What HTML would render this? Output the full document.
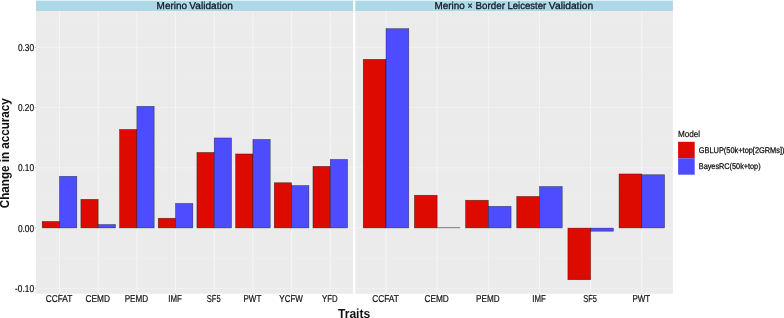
<!DOCTYPE html>
<html><head><meta charset="utf-8"><title>Change in accuracy</title>
<style>html,body{margin:0;padding:0;background:#fff;overflow:hidden}svg{display:block}</style></head>
<body>
<svg width="784" height="318" viewBox="0 0 784 318" font-family="Liberation Sans, Arial, Helvetica, sans-serif" text-rendering="geometricPrecision">
<rect width="784" height="318" fill="#fff"/>
<rect x="36.0" y="0.6" width="317.1" height="10.70" fill="#ADD8E6"/>
<rect x="36.0" y="11.3" width="317.1" height="282.4" fill="#EBEBEB"/>
<line x1="36.0" x2="353.1" y1="17.23" y2="17.23" stroke="#f0f0f0" stroke-width="0.5"/>
<line x1="36.0" x2="353.1" y1="77.45" y2="77.45" stroke="#f0f0f0" stroke-width="0.5"/>
<line x1="36.0" x2="353.1" y1="137.67" y2="137.67" stroke="#f0f0f0" stroke-width="0.5"/>
<line x1="36.0" x2="353.1" y1="197.89" y2="197.89" stroke="#f0f0f0" stroke-width="0.5"/>
<line x1="36.0" x2="353.1" y1="258.11" y2="258.11" stroke="#f0f0f0" stroke-width="0.5"/>
<line x1="36.0" x2="353.1" y1="47.34" y2="47.34" stroke="#f4f4f4" stroke-width="0.8"/>
<line x1="36.0" x2="353.1" y1="107.56" y2="107.56" stroke="#f4f4f4" stroke-width="0.8"/>
<line x1="36.0" x2="353.1" y1="167.78" y2="167.78" stroke="#f4f4f4" stroke-width="0.8"/>
<line x1="36.0" x2="353.1" y1="228.00" y2="228.00" stroke="#f4f4f4" stroke-width="0.8"/>
<line x1="36.0" x2="353.1" y1="288.22" y2="288.22" stroke="#f4f4f4" stroke-width="0.8"/>
<line x1="59.50" x2="59.50" y1="11.3" y2="293.7" stroke="#f7f7f7" stroke-width="0.8"/>
<line x1="98.18" x2="98.18" y1="11.3" y2="293.7" stroke="#f7f7f7" stroke-width="0.8"/>
<line x1="136.86" x2="136.86" y1="11.3" y2="293.7" stroke="#f7f7f7" stroke-width="0.8"/>
<line x1="175.54" x2="175.54" y1="11.3" y2="293.7" stroke="#f7f7f7" stroke-width="0.8"/>
<line x1="214.22" x2="214.22" y1="11.3" y2="293.7" stroke="#f7f7f7" stroke-width="0.8"/>
<line x1="252.90" x2="252.90" y1="11.3" y2="293.7" stroke="#f7f7f7" stroke-width="0.8"/>
<line x1="291.58" x2="291.58" y1="11.3" y2="293.7" stroke="#f7f7f7" stroke-width="0.8"/>
<line x1="330.26" x2="330.26" y1="11.3" y2="293.7" stroke="#f7f7f7" stroke-width="0.8"/>
<rect x="42.20" y="221.45" width="17.30" height="6.45" fill="#DD0A00" stroke="#000" stroke-opacity="0.55" stroke-width="0.6"/>
<rect x="59.50" y="176.35" width="17.30" height="51.55" fill="#4D4DFF" stroke="#000" stroke-opacity="0.55" stroke-width="0.6"/>
<line x1="59.50" x2="59.50" y1="293.7" y2="295.09999999999997" stroke="#777" stroke-width="0.5"/>
<text x="59.00" y="302" font-size="10" fill="#0d0d0d" stroke="#0d0d0d" stroke-width="0.2" text-anchor="middle" textLength="26.6" lengthAdjust="spacingAndGlyphs">CCFAT</text>
<rect x="80.88" y="199.35" width="17.30" height="28.55" fill="#DD0A00" stroke="#000" stroke-opacity="0.55" stroke-width="0.6"/>
<rect x="98.18" y="224.55" width="17.30" height="3.35" fill="#4D4DFF" stroke="#000" stroke-opacity="0.55" stroke-width="0.6"/>
<line x1="98.18" x2="98.18" y1="293.7" y2="295.09999999999997" stroke="#777" stroke-width="0.5"/>
<text x="97.68" y="302" font-size="10" fill="#0d0d0d" stroke="#0d0d0d" stroke-width="0.2" text-anchor="middle" textLength="24.4" lengthAdjust="spacingAndGlyphs">CEMD</text>
<rect x="119.56" y="129.45" width="17.30" height="98.45" fill="#DD0A00" stroke="#000" stroke-opacity="0.55" stroke-width="0.6"/>
<rect x="136.86" y="106.35" width="17.30" height="121.55" fill="#4D4DFF" stroke="#000" stroke-opacity="0.55" stroke-width="0.6"/>
<line x1="136.86" x2="136.86" y1="293.7" y2="295.09999999999997" stroke="#777" stroke-width="0.5"/>
<text x="136.36" y="302" font-size="10" fill="#0d0d0d" stroke="#0d0d0d" stroke-width="0.2" text-anchor="middle" textLength="23.4" lengthAdjust="spacingAndGlyphs">PEMD</text>
<rect x="158.24" y="218.25" width="17.30" height="9.65" fill="#DD0A00" stroke="#000" stroke-opacity="0.55" stroke-width="0.6"/>
<rect x="175.54" y="203.45" width="17.30" height="24.45" fill="#4D4DFF" stroke="#000" stroke-opacity="0.55" stroke-width="0.6"/>
<line x1="175.54" x2="175.54" y1="293.7" y2="295.09999999999997" stroke="#777" stroke-width="0.5"/>
<text x="175.04" y="302" font-size="10" fill="#0d0d0d" stroke="#0d0d0d" stroke-width="0.2" text-anchor="middle" textLength="13.5" lengthAdjust="spacingAndGlyphs">IMF</text>
<rect x="196.92" y="152.45" width="17.30" height="75.45" fill="#DD0A00" stroke="#000" stroke-opacity="0.55" stroke-width="0.6"/>
<rect x="214.22" y="137.95" width="17.30" height="89.95" fill="#4D4DFF" stroke="#000" stroke-opacity="0.55" stroke-width="0.6"/>
<line x1="214.22" x2="214.22" y1="293.7" y2="295.09999999999997" stroke="#777" stroke-width="0.5"/>
<text x="213.72" y="302" font-size="10" fill="#0d0d0d" stroke="#0d0d0d" stroke-width="0.2" text-anchor="middle" textLength="13.8" lengthAdjust="spacingAndGlyphs">SF5</text>
<rect x="235.60" y="153.95" width="17.30" height="73.95" fill="#DD0A00" stroke="#000" stroke-opacity="0.55" stroke-width="0.6"/>
<rect x="252.90" y="139.45" width="17.30" height="88.45" fill="#4D4DFF" stroke="#000" stroke-opacity="0.55" stroke-width="0.6"/>
<line x1="252.90" x2="252.90" y1="293.7" y2="295.09999999999997" stroke="#777" stroke-width="0.5"/>
<text x="252.40" y="302" font-size="10" fill="#0d0d0d" stroke="#0d0d0d" stroke-width="0.2" text-anchor="middle" textLength="17.8" lengthAdjust="spacingAndGlyphs">PWT</text>
<rect x="274.28" y="182.75" width="17.30" height="45.15" fill="#DD0A00" stroke="#000" stroke-opacity="0.55" stroke-width="0.6"/>
<rect x="291.58" y="185.55" width="17.30" height="42.35" fill="#4D4DFF" stroke="#000" stroke-opacity="0.55" stroke-width="0.6"/>
<line x1="291.58" x2="291.58" y1="293.7" y2="295.09999999999997" stroke="#777" stroke-width="0.5"/>
<text x="291.08" y="302" font-size="10" fill="#0d0d0d" stroke="#0d0d0d" stroke-width="0.2" text-anchor="middle" textLength="23.5" lengthAdjust="spacingAndGlyphs">YCFW</text>
<rect x="312.96" y="166.35" width="17.30" height="61.55" fill="#DD0A00" stroke="#000" stroke-opacity="0.55" stroke-width="0.6"/>
<rect x="330.26" y="159.45" width="17.30" height="68.45" fill="#4D4DFF" stroke="#000" stroke-opacity="0.55" stroke-width="0.6"/>
<line x1="330.26" x2="330.26" y1="293.7" y2="295.09999999999997" stroke="#777" stroke-width="0.5"/>
<text x="329.76" y="302" font-size="10" fill="#0d0d0d" stroke="#0d0d0d" stroke-width="0.2" text-anchor="middle" textLength="15.5" lengthAdjust="spacingAndGlyphs">YFD</text>
<text y="9.3" font-size="10.1" fill="#101a24" stroke="#101a24" stroke-width="0.3"><tspan x="156.60" textLength="30.4" lengthAdjust="spacingAndGlyphs">Merino</tspan> <tspan x="189.35" textLength="43.6" lengthAdjust="spacingAndGlyphs">Validation</tspan></text>
<rect x="355.3" y="0.6" width="317.59999999999997" height="10.70" fill="#ADD8E6"/>
<rect x="355.3" y="11.3" width="317.59999999999997" height="282.4" fill="#EBEBEB"/>
<line x1="355.3" x2="672.9" y1="17.23" y2="17.23" stroke="#f0f0f0" stroke-width="0.5"/>
<line x1="355.3" x2="672.9" y1="77.45" y2="77.45" stroke="#f0f0f0" stroke-width="0.5"/>
<line x1="355.3" x2="672.9" y1="137.67" y2="137.67" stroke="#f0f0f0" stroke-width="0.5"/>
<line x1="355.3" x2="672.9" y1="197.89" y2="197.89" stroke="#f0f0f0" stroke-width="0.5"/>
<line x1="355.3" x2="672.9" y1="258.11" y2="258.11" stroke="#f0f0f0" stroke-width="0.5"/>
<line x1="355.3" x2="672.9" y1="47.34" y2="47.34" stroke="#f4f4f4" stroke-width="0.8"/>
<line x1="355.3" x2="672.9" y1="107.56" y2="107.56" stroke="#f4f4f4" stroke-width="0.8"/>
<line x1="355.3" x2="672.9" y1="167.78" y2="167.78" stroke="#f4f4f4" stroke-width="0.8"/>
<line x1="355.3" x2="672.9" y1="228.00" y2="228.00" stroke="#f4f4f4" stroke-width="0.8"/>
<line x1="355.3" x2="672.9" y1="288.22" y2="288.22" stroke="#f4f4f4" stroke-width="0.8"/>
<line x1="386.00" x2="386.00" y1="11.3" y2="293.7" stroke="#f7f7f7" stroke-width="0.8"/>
<line x1="437.16" x2="437.16" y1="11.3" y2="293.7" stroke="#f7f7f7" stroke-width="0.8"/>
<line x1="488.32" x2="488.32" y1="11.3" y2="293.7" stroke="#f7f7f7" stroke-width="0.8"/>
<line x1="539.48" x2="539.48" y1="11.3" y2="293.7" stroke="#f7f7f7" stroke-width="0.8"/>
<line x1="590.64" x2="590.64" y1="11.3" y2="293.7" stroke="#f7f7f7" stroke-width="0.8"/>
<line x1="641.80" x2="641.80" y1="11.3" y2="293.7" stroke="#f7f7f7" stroke-width="0.8"/>
<rect x="363.25" y="59.35" width="22.75" height="168.55" fill="#DD0A00" stroke="#000" stroke-opacity="0.55" stroke-width="0.6"/>
<rect x="386.00" y="28.65" width="22.75" height="199.25" fill="#4D4DFF" stroke="#000" stroke-opacity="0.55" stroke-width="0.6"/>
<line x1="386.00" x2="386.00" y1="293.7" y2="295.09999999999997" stroke="#777" stroke-width="0.5"/>
<text x="385.50" y="302" font-size="10" fill="#0d0d0d" stroke="#0d0d0d" stroke-width="0.2" text-anchor="middle" textLength="26.6" lengthAdjust="spacingAndGlyphs">CCFAT</text>
<rect x="414.41" y="195.25" width="22.75" height="32.65" fill="#DD0A00" stroke="#000" stroke-opacity="0.55" stroke-width="0.6"/>
<line x1="436.86" x2="460.21" y1="227.70" y2="227.70" stroke="#555" stroke-width="0.8"/>
<line x1="437.16" x2="437.16" y1="293.7" y2="295.09999999999997" stroke="#777" stroke-width="0.5"/>
<text x="436.66" y="302" font-size="10" fill="#0d0d0d" stroke="#0d0d0d" stroke-width="0.2" text-anchor="middle" textLength="24.4" lengthAdjust="spacingAndGlyphs">CEMD</text>
<rect x="465.57" y="200.25" width="22.75" height="27.65" fill="#DD0A00" stroke="#000" stroke-opacity="0.55" stroke-width="0.6"/>
<rect x="488.32" y="206.35" width="22.75" height="21.55" fill="#4D4DFF" stroke="#000" stroke-opacity="0.55" stroke-width="0.6"/>
<line x1="488.32" x2="488.32" y1="293.7" y2="295.09999999999997" stroke="#777" stroke-width="0.5"/>
<text x="487.82" y="302" font-size="10" fill="#0d0d0d" stroke="#0d0d0d" stroke-width="0.2" text-anchor="middle" textLength="23.4" lengthAdjust="spacingAndGlyphs">PEMD</text>
<rect x="516.73" y="196.45" width="22.75" height="31.45" fill="#DD0A00" stroke="#000" stroke-opacity="0.55" stroke-width="0.6"/>
<rect x="539.48" y="186.55" width="22.75" height="41.35" fill="#4D4DFF" stroke="#000" stroke-opacity="0.55" stroke-width="0.6"/>
<line x1="539.48" x2="539.48" y1="293.7" y2="295.09999999999997" stroke="#777" stroke-width="0.5"/>
<text x="538.98" y="302" font-size="10" fill="#0d0d0d" stroke="#0d0d0d" stroke-width="0.2" text-anchor="middle" textLength="13.5" lengthAdjust="spacingAndGlyphs">IMF</text>
<rect x="567.89" y="228.10" width="22.75" height="51.60" fill="#DD0A00" stroke="#000" stroke-opacity="0.55" stroke-width="0.6"/>
<rect x="590.64" y="228.10" width="22.75" height="3.10" fill="#4D4DFF" stroke="#000" stroke-opacity="0.55" stroke-width="0.6"/>
<line x1="590.64" x2="590.64" y1="293.7" y2="295.09999999999997" stroke="#777" stroke-width="0.5"/>
<text x="590.14" y="302" font-size="10" fill="#0d0d0d" stroke="#0d0d0d" stroke-width="0.2" text-anchor="middle" textLength="13.8" lengthAdjust="spacingAndGlyphs">SF5</text>
<rect x="619.05" y="173.95" width="22.75" height="53.95" fill="#DD0A00" stroke="#000" stroke-opacity="0.55" stroke-width="0.6"/>
<rect x="641.80" y="174.75" width="22.75" height="53.15" fill="#4D4DFF" stroke="#000" stroke-opacity="0.55" stroke-width="0.6"/>
<line x1="641.80" x2="641.80" y1="293.7" y2="295.09999999999997" stroke="#777" stroke-width="0.5"/>
<text x="641.30" y="302" font-size="10" fill="#0d0d0d" stroke="#0d0d0d" stroke-width="0.2" text-anchor="middle" textLength="17.8" lengthAdjust="spacingAndGlyphs">PWT</text>
<text y="9.3" font-size="10.1" fill="#101a24" stroke="#101a24" stroke-width="0.3"><tspan x="434.60" textLength="30.2" lengthAdjust="spacingAndGlyphs">Merino</tspan> <tspan x="467.40" textLength="5.0" lengthAdjust="spacingAndGlyphs">×</tspan> <tspan x="475.60" textLength="29.3" lengthAdjust="spacingAndGlyphs">Border</tspan> <tspan x="507.50" textLength="38.6" lengthAdjust="spacingAndGlyphs">Leicester</tspan> <tspan x="548.85" textLength="44.3" lengthAdjust="spacingAndGlyphs">Validation</tspan></text>
<text x="34.1" y="51" font-size="10" fill="#0d0d0d" stroke="#0d0d0d" stroke-width="0.2" text-anchor="end" textLength="16.2" lengthAdjust="spacingAndGlyphs">0.30</text>
<line x1="34.6" x2="36" y1="47.34" y2="47.34" stroke="#666" stroke-width="0.5"/>
<text x="34.1" y="111" font-size="10" fill="#0d0d0d" stroke="#0d0d0d" stroke-width="0.2" text-anchor="end" textLength="16.2" lengthAdjust="spacingAndGlyphs">0.20</text>
<line x1="34.6" x2="36" y1="107.56" y2="107.56" stroke="#666" stroke-width="0.5"/>
<text x="34.1" y="171" font-size="10" fill="#0d0d0d" stroke="#0d0d0d" stroke-width="0.2" text-anchor="end" textLength="16.2" lengthAdjust="spacingAndGlyphs">0.10</text>
<line x1="34.6" x2="36" y1="167.78" y2="167.78" stroke="#666" stroke-width="0.5"/>
<text x="34.1" y="232" font-size="10" fill="#0d0d0d" stroke="#0d0d0d" stroke-width="0.2" text-anchor="end" textLength="16.2" lengthAdjust="spacingAndGlyphs">0.00</text>
<line x1="34.6" x2="36" y1="228.00" y2="228.00" stroke="#666" stroke-width="0.5"/>
<text x="34.1" y="292" font-size="10" fill="#0d0d0d" stroke="#0d0d0d" stroke-width="0.2" text-anchor="end" textLength="19.0" lengthAdjust="spacingAndGlyphs">-0.10</text>
<line x1="34.6" x2="36" y1="288.22" y2="288.22" stroke="#666" stroke-width="0.5"/>
<text transform="translate(9.1,153.2) rotate(-90)" font-size="13.1" font-weight="bold" fill="#111" text-anchor="middle" textLength="110" lengthAdjust="spacingAndGlyphs">Change in accuracy</text>
<text x="354.1" y="317.6" font-size="13.2" font-weight="bold" fill="#111" text-anchor="middle" textLength="32.3" lengthAdjust="spacingAndGlyphs">Traits</text>
<text x="677.9" y="137.3" font-size="8.9" fill="#0d0d0d" stroke="#0d0d0d" stroke-width="0.2" textLength="22.2" lengthAdjust="spacingAndGlyphs">Model</text>
<rect x="678.1" y="141.8" width="16.6" height="16.5" fill="#DD0A00"/>
<rect x="678.1" y="158.3" width="16.6" height="16.4" fill="#4D4DFF"/>
<text x="698.8" y="152.9" font-size="8.3" fill="#0a0a0a" stroke="#0a0a0a" stroke-width="0.25" textLength="85.7" lengthAdjust="spacingAndGlyphs">GBLUP(50k+top[2GRMs])</text>
<text x="698.8" y="169.4" font-size="8.3" fill="#0a0a0a" stroke="#0a0a0a" stroke-width="0.25" textLength="61.8" lengthAdjust="spacingAndGlyphs">BayesRC(50k+top)</text>
</svg>
</body></html>
